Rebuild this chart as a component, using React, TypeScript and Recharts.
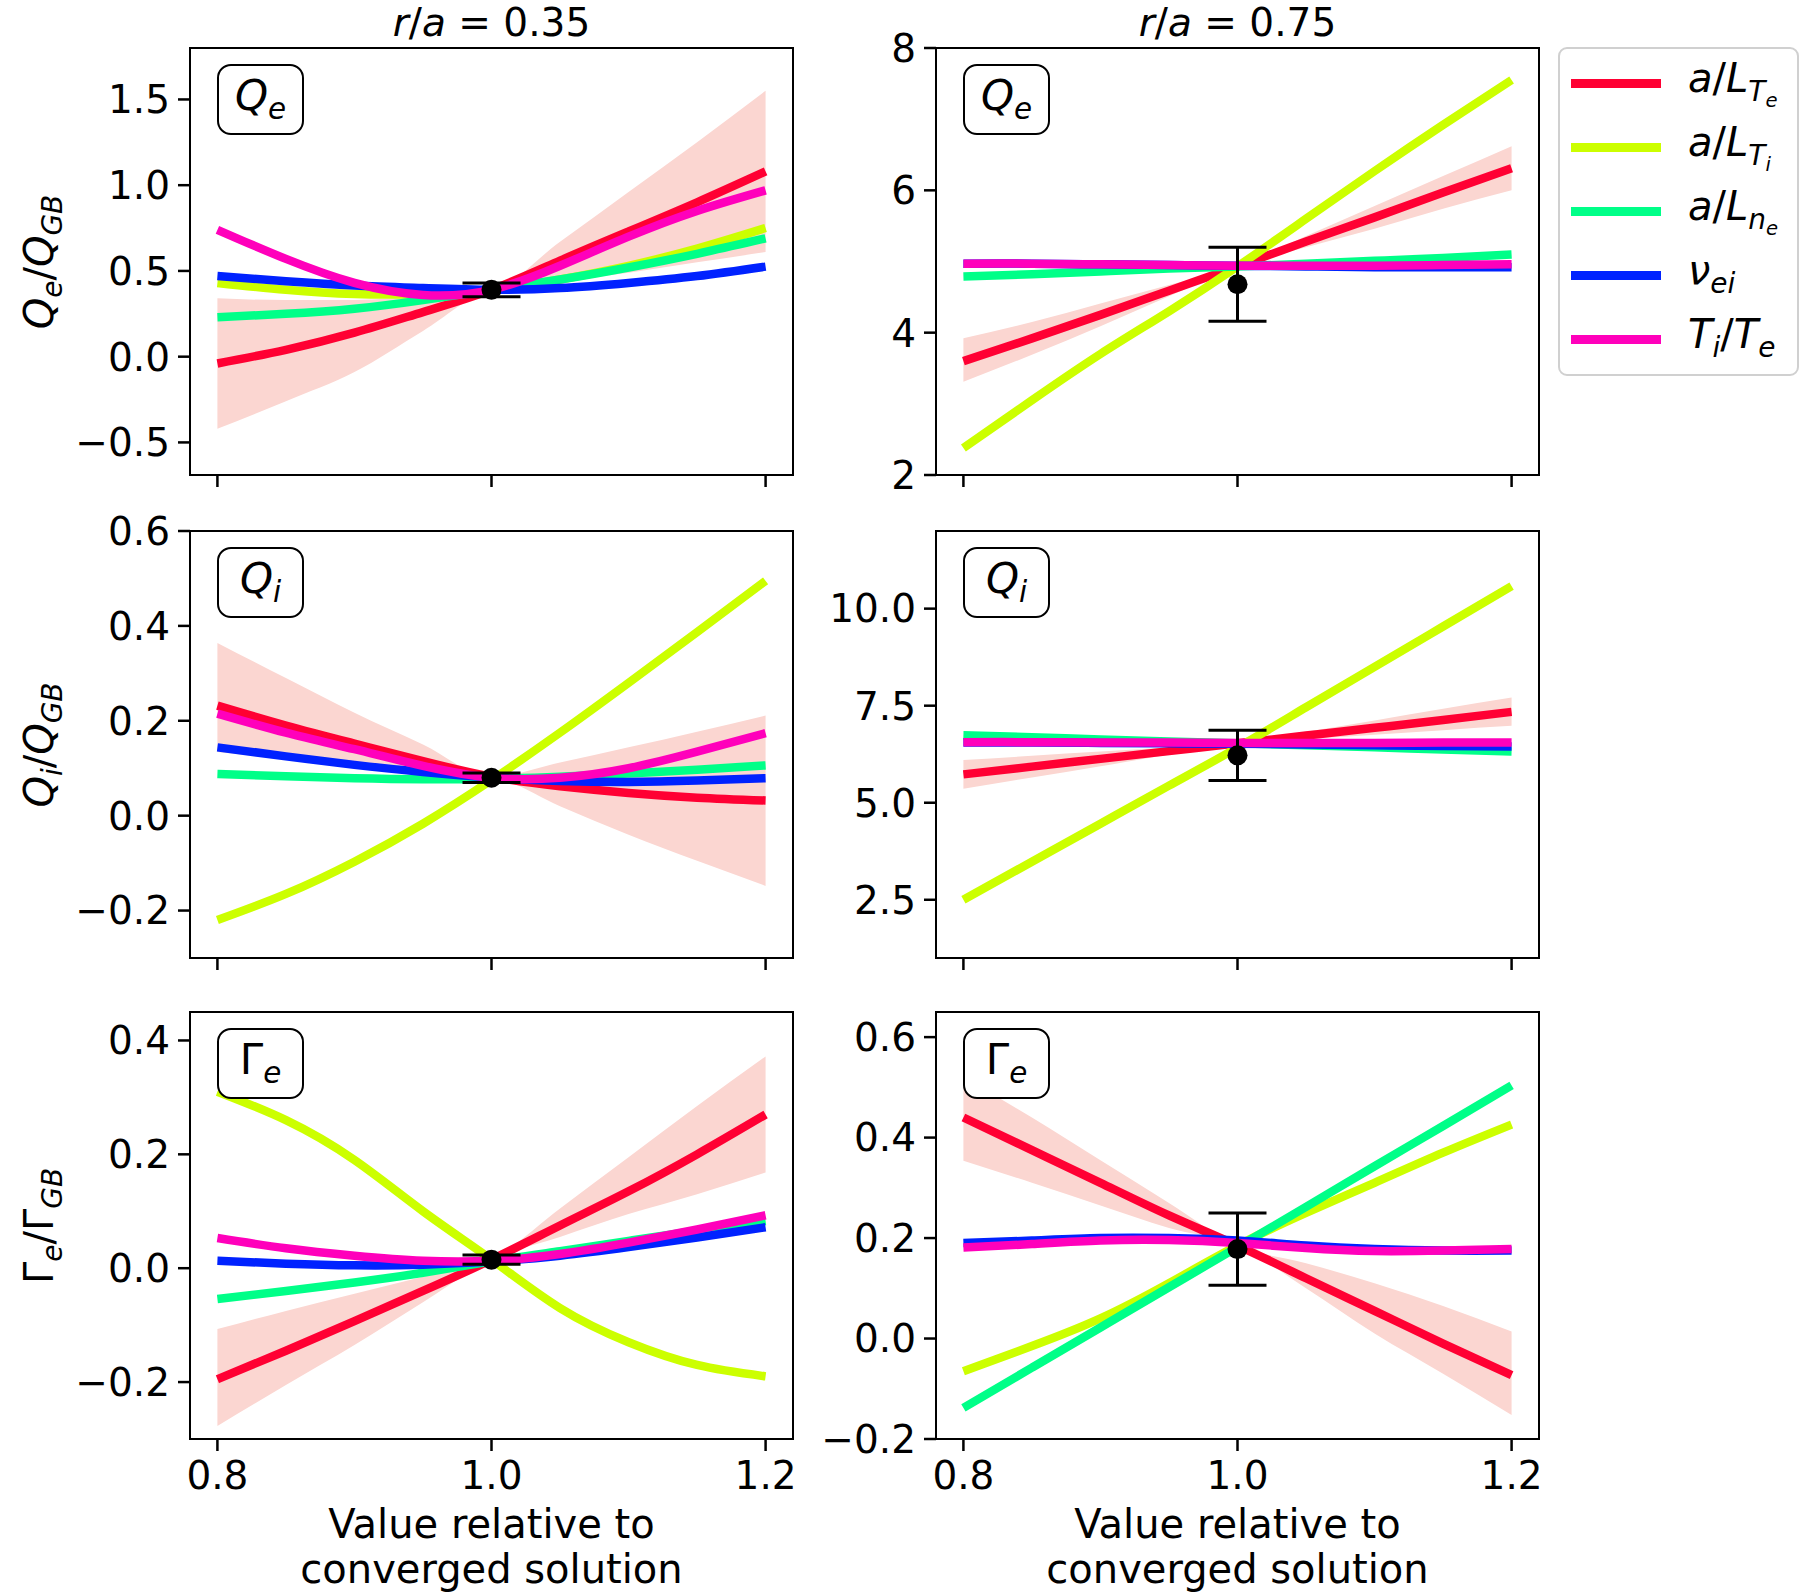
import React from "react";
import { Area, ComposedChart, ErrorBar, Line, Scatter, XAxis, YAxis } from "recharts";

// x grid of the scans (value relative to converged solution)
const xs = [0.8, 0.85, 0.9, 0.95, 1.0, 1.05, 1.1, 1.15, 1.2];
const xTicks = [0.8, 1.0, 1.2];

const seriesKeys = ["aLTe", "aLTi", "aLne", "nuei", "TiTe"];
const seriesColors = ["#ff0033", "#ccff00", "#00ff88", "#0022ff", "#ff00bb"];
const bandColor = "#fbd6d1";

// Qe, r/a = 0.35
const qe35LTe = [-0.04, 0.04, 0.14, 0.26, 0.39, 0.56, 0.73, 0.9, 1.08];
const qe35LTi = [0.43, 0.39, 0.365, 0.365, 0.39, 0.45, 0.53, 0.63, 0.75];
const qe35Lne = [0.23, 0.25, 0.28, 0.33, 0.39, 0.45, 0.52, 0.6, 0.69];
const qe35Nu = [0.47, 0.44, 0.415, 0.4, 0.39, 0.4, 0.43, 0.47, 0.525];
const qe35TiTe = [0.74, 0.57, 0.43, 0.36, 0.39, 0.53, 0.7, 0.85, 0.97];
const qe35Lo = [-0.42, -0.26, -0.09, 0.15, 0.39, 0.44, 0.49, 0.55, 0.61];
const qe35Hi = [0.34, 0.33, 0.33, 0.355, 0.39, 0.67, 0.96, 1.25, 1.55];
const qe35Ticks = [-0.5, 0, 0.5, 1.0, 1.5];

// Qe, r/a = 0.75
const qe75LTe = [3.6, 3.92, 4.25, 4.59, 4.93, 5.28, 5.62, 5.97, 6.31];
const qe75LTi = [2.38, 3.05, 3.7, 4.3, 4.93, 5.6, 6.27, 6.92, 7.55];
const qe75Lne = [4.79, 4.82, 4.86, 4.9, 4.93, 4.97, 5.01, 5.05, 5.1];
const qe75Nu = [4.97, 4.97, 4.96, 4.95, 4.94, 4.93, 4.92, 4.92, 4.92];
const qe75TiTe = [4.97, 4.97, 4.96, 4.95, 4.94, 4.94, 4.94, 4.95, 4.96];
const qe75Lo = [3.31, 3.69, 4.09, 4.51, 4.93, 5.2, 5.46, 5.74, 6.0];
const qe75Hi = [3.92, 4.15, 4.41, 4.67, 4.93, 5.36, 5.78, 6.2, 6.62];
const qe75Ticks = [2, 4, 6, 8];

// Qi, r/a = 0.35
const qi35LTe = [0.232, 0.19, 0.152, 0.115, 0.082, 0.062, 0.048, 0.038, 0.032];
const qi35LTi = [-0.22, -0.165, -0.097, -0.017, 0.075, 0.175, 0.28, 0.387, 0.495];
const qi35Lne = [0.088, 0.083, 0.079, 0.077, 0.078, 0.082, 0.089, 0.097, 0.106];
const qi35Nu = [0.144, 0.125, 0.107, 0.092, 0.08, 0.073, 0.071, 0.074, 0.079];
const qi35TiTe = [0.215, 0.175, 0.14, 0.105, 0.08, 0.08, 0.1, 0.135, 0.174];
const qi35Lo = [0.134, 0.12, 0.107, 0.094, 0.082, 0.02, -0.04, -0.095, -0.148];
const qi35Hi = [0.364, 0.29, 0.217, 0.15, 0.082, 0.112, 0.144, 0.177, 0.211];
const qi35Ticks = [-0.2, 0, 0.2, 0.4, 0.6];

// Qi, r/a = 0.75
const qi75LTe = [5.73, 5.93, 6.13, 6.33, 6.53, 6.73, 6.93, 7.13, 7.34];
const qi75LTi = [2.5, 3.48, 4.46, 5.44, 6.42, 7.46, 8.5, 9.54, 10.58];
const qi75Lne = [6.74, 6.69, 6.63, 6.58, 6.53, 6.48, 6.43, 6.37, 6.32];
const qi75Nu = [6.55, 6.55, 6.54, 6.53, 6.52, 6.5, 6.48, 6.46, 6.45];
const qi75TiTe = [6.56, 6.56, 6.55, 6.55, 6.54, 6.54, 6.54, 6.55, 6.55];
const qi75Lo = [5.36, 5.65, 5.94, 6.24, 6.53, 6.64, 6.75, 6.87, 6.98];
const qi75Hi = [6.1, 6.21, 6.32, 6.42, 6.53, 6.83, 7.12, 7.42, 7.71];
const qi75Ticks = [2.5, 5.0, 7.5, 10.0];

// Gamma_e, r/a = 0.35
const ge35LTe = [-0.195, -0.145, -0.093, -0.04, 0.015, 0.075, 0.135, 0.2, 0.27];
const ge35LTi = [0.31, 0.26, 0.19, 0.1, 0.015, -0.07, -0.13, -0.17, -0.19];
const ge35Lne = [-0.054, -0.04, -0.025, -0.008, 0.012, 0.03, 0.048, 0.066, 0.083];
const ge35Nu = [0.013, 0.008, 0.005, 0.006, 0.012, 0.022, 0.037, 0.054, 0.072];
const ge35TiTe = [0.053, 0.035, 0.022, 0.013, 0.013, 0.025, 0.045, 0.068, 0.093];
const ge35Lo = [-0.277, -0.205, -0.135, -0.06, 0.015, 0.055, 0.095, 0.13, 0.168];
const ge35Hi = [-0.107, -0.075, -0.045, -0.015, 0.015, 0.105, 0.195, 0.285, 0.372];
const ge35Ticks = [-0.2, 0, 0.2, 0.4];

// Gamma_e, r/a = 0.75
const ge75LTe = [0.44, 0.375, 0.31, 0.245, 0.185, 0.12, 0.055, -0.01, -0.073];
const ge75LTi = [-0.065, -0.015, 0.04, 0.11, 0.185, 0.25, 0.31, 0.37, 0.426];
const ge75Lne = [-0.138, -0.058, 0.022, 0.102, 0.182, 0.262, 0.343, 0.423, 0.504];
const ge75Nu = [0.19, 0.195, 0.2, 0.2, 0.195, 0.185, 0.178, 0.175, 0.175];
const ge75TiTe = [0.181, 0.188, 0.195, 0.196, 0.19, 0.18, 0.174, 0.175, 0.178];
const ge75Lo = [0.354, 0.31, 0.265, 0.22, 0.185, 0.1, 0.01, -0.07, -0.152];
const ge75Hi = [0.52, 0.44, 0.355, 0.27, 0.185, 0.15, 0.11, 0.065, 0.014];
const ge75Ticks = [-0.2, 0, 0.2, 0.4, 0.6];

// converged solution with its error bar: [y, err]
const qe35Point = [0.39, 0.04];
const qe75Point = [4.68, 0.52];
const qi35Point = [0.08, 0.01];
const qi75Point = [6.22, 0.65];
const ge35Point = [0.015, 0.008];
const ge75Point = [0.178, 0.072];

// layout (px)
const COL_X = [190, 936];
const ROW_Y = [48, 531, 1012];
const PLOT_W = 603;
const PLOT_H = 427;
const YAXIS_W = 170;
const XAXIS_H = 70;
const MT = 30;
const MR = 20;
const FONT = "DejaVu Sans";
const FS = 39;

const subStyle: React.CSSProperties = { fontSize: "0.7em", position: "relative", top: "0.32em" };

const Sub = ({ children }: { children: React.ReactNode }) => <span style={subStyle}>{children}</span>;
const I = ({ children }: { children: React.ReactNode }) => <span style={{ fontStyle: "italic" }}>{children}</span>;

const fmtY = (d: number) => (v: number) => {
  const s = Math.abs(v).toFixed(d);
  return v < -1e-9 ? "\u2212" + s : s;
};

const panels = [
  { col: 0, row: 0, lines: [qe35LTe, qe35LTi, qe35Lne, qe35Nu, qe35TiTe], lo: qe35Lo, hi: qe35Hi, pt: qe35Point, domain: [-0.69, 1.8], ticks: qe35Ticks, dec: 1, inset: "Qe" },
  { col: 1, row: 0, lines: [qe75LTe, qe75LTi, qe75Lne, qe75Nu, qe75TiTe], lo: qe75Lo, hi: qe75Hi, pt: qe75Point, domain: [2, 8], ticks: qe75Ticks, dec: 0, inset: "Qe" },
  { col: 0, row: 1, lines: [qi35LTe, qi35LTi, qi35Lne, qi35Nu, qi35TiTe], lo: qi35Lo, hi: qi35Hi, pt: qi35Point, domain: [-0.3, 0.6], ticks: qi35Ticks, dec: 1, inset: "Qi" },
  { col: 1, row: 1, lines: [qi75LTe, qi75LTi, qi75Lne, qi75Nu, qi75TiTe], lo: qi75Lo, hi: qi75Hi, pt: qi75Point, domain: [1, 12], ticks: qi75Ticks, dec: 1, inset: "Qi" },
  { col: 0, row: 2, lines: [ge35LTe, ge35LTi, ge35Lne, ge35Nu, ge35TiTe], lo: ge35Lo, hi: ge35Hi, pt: ge35Point, domain: [-0.3, 0.45], ticks: ge35Ticks, dec: 1, inset: "Ge" },
  { col: 1, row: 2, lines: [ge75LTe, ge75LTi, ge75Lne, ge75Nu, ge75TiTe], lo: ge75Lo, hi: ge75Hi, pt: ge75Point, domain: [-0.2, 0.65], ticks: ge75Ticks, dec: 1, inset: "Ge" },
];

const insetText = (k: string) => {
  if (k === "Qe") return <><I>Q</I><Sub><I>e</I></Sub></>;
  if (k === "Qi") return <><I>Q</I><Sub><I>i</I></Sub></>;
  return <>Γ<Sub><I>e</I></Sub></>;
};

const yLabels = [
  <><I>Q</I><Sub><I>e</I></Sub>/<I>Q</I><Sub><I>GB</I></Sub></>,
  <><I>Q</I><Sub><I>i</I></Sub>/<I>Q</I><Sub><I>GB</I></Sub></>,
  <>Γ<Sub><I>e</I></Sub>/Γ<Sub><I>GB</I></Sub></>,
];

const legendLabels = [
  <><I>a</I>/<I>L</I><Sub><I>T</I><Sub><I>e</I></Sub></Sub></>,
  <><I>a</I>/<I>L</I><Sub><I>T</I><Sub><I>i</I></Sub></Sub></>,
  <><I>a</I>/<I>L</I><Sub><I>n</I><Sub><I>e</I></Sub></Sub></>,
  <><I>ν</I><Sub><I>ei</I></Sub></>,
  <><I>T</I><Sub><I>i</I></Sub>/<I>T</I><Sub><I>e</I></Sub></>,
];

const Dot = (p: any) => <circle cx={p.cx} cy={p.cy} r={10} fill="#000" />;

const Panel = ({ p }: { p: (typeof panels)[number] }) => {
  const rows = xs.map((x, i) => {
    const r: Record<string, any> = { x, band: [p.lo[i], p.hi[i]] };
    seriesKeys.forEach((k, j) => (r[k] = p.lines[j][i]));
    return r;
  });
  const bottom = p.row === 2;
  const px = COL_X[p.col];
  const py = ROW_Y[p.row];
  const tickStyle = { fill: "#000", fontSize: FS, fontFamily: FONT };
  return (
    <>
      <div style={{ position: "absolute", left: px - YAXIS_W, top: py - MT }}>
        <ComposedChart
          width={YAXIS_W + PLOT_W + MR}
          height={MT + PLOT_H + XAXIS_H}
          data={rows}
          margin={{ top: MT, right: MR, bottom: 0, left: 0 }}
          style={{ overflow: "visible" }}
        >
          <XAxis
            dataKey="x"
            type="number"
            domain={[0.78, 1.22]}
            ticks={xTicks}
            interval={0}
            allowDataOverflow
            axisLine={false}
            tickLine={{ stroke: "#000", strokeWidth: 2.5 }}
            tickSize={12}
            tickMargin={10}
            height={XAXIS_H}
            tick={tickStyle}
            tickFormatter={(v: number) => (bottom ? v.toFixed(1) : "")}
          />
          <YAxis
            type="number"
            domain={p.domain}
            ticks={p.ticks}
            interval={0}
            allowDataOverflow
            axisLine={false}
            tickLine={{ stroke: "#000", strokeWidth: 2.5 }}
            tickSize={12}
            tickMargin={8}
            width={YAXIS_W}
            tick={tickStyle}
            tickFormatter={fmtY(p.dec)}
          />
          <Area dataKey="band" type="monotone" stroke="none" fill={bandColor} fillOpacity={1} isAnimationActive={false} />
          {seriesKeys.map((k, j) => (
            <Line
              key={k}
              dataKey={k}
              type="natural"
              stroke={seriesColors[j]}
              strokeWidth={8.5}
              dot={false}
              activeDot={false}
              isAnimationActive={false}
            />
          ))}
          <Scatter data={[{ x: 1.0, y: p.pt[0], err: p.pt[1] }]} dataKey="y" shape={Dot} isAnimationActive={false}>
            <ErrorBar dataKey="err" direction="y" width={29} strokeWidth={3} stroke="#000" />
          </Scatter>
        </ComposedChart>
      </div>
      <div
        style={{
          position: "absolute",
          left: px - 1.25,
          top: py - 1.25,
          width: PLOT_W + 2.5,
          height: PLOT_H + 2.5,
          border: "2.5px solid #000",
          boxSizing: "border-box",
          pointerEvents: "none",
        }}
      />
      <div
        style={{
          position: "absolute",
          left: px + 27,
          top: py + 16,
          width: 87,
          height: 71,
          border: "2.5px solid #000",
          borderRadius: 14,
          boxSizing: "border-box",
          background: "#fff",
          display: "flex",
          alignItems: "center",
          justifyContent: "center",
          fontSize: 42,
          paddingBottom: 8,
        }}
      >
        <span>{insetText(p.inset)}</span>
      </div>
      {bottom && (
        <div
          style={{
            position: "absolute",
            left: px + PLOT_W / 2 - 300,
            top: 1502,
            width: 600,
            textAlign: "center",
            fontSize: 40,
            lineHeight: "45px",
          }}
        >
          Value relative to
          <br />
          converged solution
        </div>
      )}
    </>
  );
};

export default function App() {
  return (
    <div
      style={{
        position: "absolute",
        left: 0,
        top: 0,
        width: 1800,
        height: 1594,
        background: "#fff",
        fontFamily: FONT,
        color: "#000",
        overflow: "hidden",
      }}
    >
      {["0.35", "0.75"].map((v, c) => (
        <div
          key={v}
          style={{
            position: "absolute",
            left: COL_X[c] + PLOT_W / 2 - 200,
            top: 0,
            width: 400,
            textAlign: "center",
            fontSize: 39,
            lineHeight: "normal",
          }}
        >
          <I>r</I>/<I>a</I> = {v}
        </div>
      ))}
      {yLabels.map((l, r) => (
        <div
          key={r}
          style={{
            position: "absolute",
            left: 39,
            top: ROW_Y[r] + PLOT_H / 2,
            transform: "translate(-50%, -50%) rotate(-90deg)",
            whiteSpace: "nowrap",
            fontSize: 40,
          }}
        >
          {l}
        </div>
      ))}
      {panels.map((p, i) => (
        <Panel key={i} p={p} />
      ))}
      <div
        style={{
          position: "absolute",
          left: 1558,
          top: 47,
          width: 241,
          height: 329,
          border: "2.5px solid #d0d0d0",
          borderRadius: 9,
          boxSizing: "border-box",
          background: "#fff",
        }}
      >
        {legendLabels.map((l, i) => (
          <div key={i} style={{ position: "absolute", left: 0, top: 34 + i * 64, width: 240 }}>
            <div
              style={{
                position: "absolute",
                left: 11,
                top: -4,
                width: 90,
                height: 8.5,
                background: seriesColors[i],
              }}
            />
            <div style={{ position: "absolute", left: 128, top: -27, fontSize: 40, whiteSpace: "nowrap", lineHeight: "44px" }}>
              {l}
            </div>
          </div>
        ))}
      </div>
    </div>
  );
}
